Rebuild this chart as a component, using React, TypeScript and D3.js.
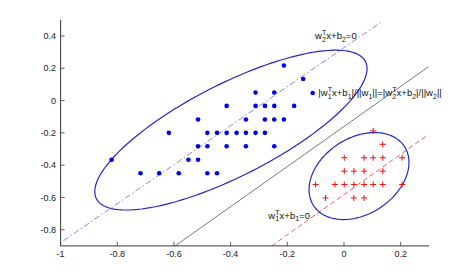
import React from 'react';
import * as d3 from 'd3';

// ---- data ----
const blueX = [
  -0.212,
  -0.144,
  -0.312, -0.246,
  -0.414, -0.312, -0.279, -0.246, -0.176,
  -0.515, -0.346, -0.279, -0.246, -0.212,
  -0.618, -0.482, -0.448, -0.414, -0.379, -0.346, -0.312, -0.279,
  -0.515, -0.482, -0.414, -0.346, -0.246,
  -0.82, -0.549, -0.515,
  -0.718, -0.652, -0.583, -0.482, -0.448,
];
const blueY = [
  0.217,
  0.133,
  0.05, 0.05,
  -0.033, -0.033, -0.033, -0.033, -0.033,
  -0.117, -0.117, -0.117, -0.117, -0.117,
  -0.2, -0.2, -0.2, -0.2, -0.2, -0.2, -0.2, -0.2,
  -0.283, -0.283, -0.283, -0.283, -0.283,
  -0.367, -0.367, -0.367,
  -0.45, -0.45, -0.45, -0.45, -0.45,
];
const redX = [
  0.103,
  0.137,
  0.001, 0.071, 0.103, 0.137, 0.205,
  0.001, 0.035, 0.071, 0.137,
  -0.1, -0.032, 0.001, 0.035, 0.071, 0.103, 0.137, 0.205,
  -0.065, 0.035, 0.071,
];
const redY = [
  -0.188,
  -0.271,
  -0.354, -0.354, -0.354, -0.354, -0.354,
  -0.437, -0.437, -0.437, -0.437,
  -0.52, -0.52, -0.52, -0.52, -0.52, -0.52, -0.52, -0.52,
  -0.603, -0.603, -0.603,
];

// separating lines (endpoints, data units)
const lineW2 = [[-0.99, -0.868], [0.133, 0.488]];
const lineMid = [[-0.596, -0.9], [0.298, 0.209]];
const lineW1 = [[-0.255, -0.9], [0.292, -0.218]];

// ellipses: center, semi-axis vector u, semi-axis vector v (data units)
const blueEllipse = [[-0.399, -0.183], [0.4747, 0.4246], [0.0737, -0.254]];
const redEllipse = [[0.053, -0.4675], [0.1604, 0.1828], [0.0732, -0.1978]];

const xTicks = [-1, -0.8, -0.6, -0.4, -0.2, 0, 0.2];
const yTicks = [-0.8, -0.6, -0.4, -0.2, 0, 0.2, 0.4];
const xDomain = [-1, 0.3];
const yDomain = [-0.9, 0.5];

// annotation anchors (data units)
const labelW2Pos = [-0.102, 0.383];
const labelW1Pos = [-0.267, -0.731];

const FONT = '"Liberation Sans", Arial, Helvetica, sans-serif';

type Seg = { t?: string; sup?: string; sub?: string };

function Eq({ x, y, segs, fs = 9.5 }: { x: number; y: number; segs: Seg[]; fs?: number }) {
  const small = fs * 0.74;
  const out: React.ReactNode[] = [];
  let cur = 0; // current baseline offset
  segs.forEach((s, i) => {
    if (s.t !== undefined) {
      out.push(
        <tspan key={i + 'm'} fontSize={fs} dy={-cur} dx={i > 0 && segs[i - 1].sup ? 0.5 : 0}>
          {s.t}
        </tspan>
      );
      cur = 0;
    } else {
      if (s.sup) {
        const up = -fs * 0.4;
        out.push(
          <tspan key={i + 'p'} fontSize={small} dy={up - cur}>
            {s.sup}
          </tspan>
        );
        cur = up;
        const down = fs * 0.3;
        out.push(
          <tspan key={i + 'b'} fontSize={small} dx={-small * 0.611} dy={down - cur}>
            {s.sub}
          </tspan>
        );
        cur = down;
      } else {
        const down = fs * 0.3;
        out.push(
          <tspan key={i + 'b'} fontSize={small} dy={down - cur}>
            {s.sub}
          </tspan>
        );
        cur = down;
      }
    }
  });
  return (
    <text x={x} y={y} fontFamily={FONT} fill="#111">
      {out}
    </text>
  );
}

export default function App() {
  const W = 474, H = 277;
  const x = d3.scaleLinear().domain(xDomain).range([60.6, 429]);
  const y = d3.scaleLinear().domain(yDomain).range([245.9, 19.8]);

  const ell = (e: number[][]) => {
    const [c, u, v] = e;
    const ts = d3.range(0, 2 * Math.PI + 0.001, Math.PI / 90);
    return d3
      .line<number>()
      .x((t) => x(c[0] + u[0] * Math.cos(t) + v[0] * Math.sin(t)))
      .y((t) => y(c[1] + u[1] * Math.cos(t) + v[1] * Math.sin(t)))(ts) as string;
  };
  const seg = (l: number[][]) =>
    d3.line<number[]>().x((p) => x(p[0])).y((p) => y(p[1]))(l) as string;

  const axisColor = '#3a3a3a';
  return (
    <svg
      width={W}
      height={H}
      style={{ position: 'absolute', left: 0, top: 0, background: '#fff' }}
    >
      {/* lines */}
      <path d={seg(lineMid)} stroke="#555" strokeWidth={0.8} fill="none" />
      <path d={seg(lineW2)} stroke="#6a6ac8" strokeWidth={0.8} fill="none" strokeDasharray="6,2.5,1.5,2.5" />
      <path d={seg(lineW1)} stroke="#e85050" strokeWidth={0.9} fill="none" strokeDasharray="5,3" />

      {/* ellipses */}
      <path d={ell(blueEllipse)} stroke="#2525c8" strokeWidth={1.2} fill="none" />
      <path d={ell(redEllipse)} stroke="#2525c8" strokeWidth={1.2} fill="none" />

      {/* blue points */}
      {blueX.map((bx, i) => (
        <circle key={'b' + i} cx={x(bx)} cy={y(blueY[i])} r={2.3} fill="#0000f0" />
      ))}
      {/* red plus */}
      {redX.map((rx, i) => {
        const cx = x(rx), cy = y(redY[i]);
        return (
          <path
            key={'r' + i}
            d={`M${cx - 3},${cy}H${cx + 3}M${cx},${cy - 3}V${cy + 3}`}
            stroke="#f01010"
            strokeWidth={1}
          />
        );
      })}

      {/* axes */}
      <line x1={x(xDomain[0])} x2={x(xDomain[1])} y1={y(yDomain[0])} y2={y(yDomain[0])} stroke={axisColor} strokeWidth={1} />
      <line x1={x(xDomain[0])} x2={x(xDomain[0])} y1={y(yDomain[0])} y2={y(yDomain[1])} stroke={axisColor} strokeWidth={1} />
      {xTicks.map((t) => (
        <g key={'xt' + t}>
          <line x1={x(t)} x2={x(t)} y1={y(yDomain[0])} y2={y(yDomain[0]) - 4} stroke={axisColor} strokeWidth={0.8} />
          <text x={x(t)} y={256.5} textAnchor="middle" fontSize={9} fontFamily={FONT} fill="#222">
            {String(t)}
          </text>
        </g>
      ))}
      {yTicks.map((t) => (
        <g key={'yt' + t}>
          <line x1={x(xDomain[0])} x2={x(xDomain[0]) + 4} y1={y(t)} y2={y(t)} stroke={axisColor} strokeWidth={0.8} />
          <text x={56} y={y(t) + 3.2} textAnchor="end" fontSize={9} fontFamily={FONT} fill="#222">
            {String(t)}
          </text>
        </g>
      ))}

      {/* annotations */}
      <Eq
        x={x(labelW2Pos[0])}
        y={y(labelW2Pos[1])}
        segs={[{ t: 'w' }, { sup: 'T', sub: '2' }, { t: 'x+b' }, { sub: '2' }, { t: '=0' }]}
      />
      <Eq
        x={x(labelW1Pos[0])}
        y={y(labelW1Pos[1])}
        segs={[{ t: 'w' }, { sup: 'T', sub: '1' }, { t: 'x+b' }, { sub: '1' }, { t: '=0' }]}
      />

      {/* legend */}
      <circle cx={312.7} cy={93} r={2.3} fill="#0000f0" />
      <Eq
        x={318.3}
        y={96}
        segs={[
          { t: '|w' }, { sup: 'T', sub: '1' }, { t: 'x+b' }, { sub: '1' }, { t: '|/||w' }, { sub: '1' },
          { t: '||=|w' }, { sup: 'T', sub: '2' }, { t: 'x+b' }, { sub: '2' }, { t: '|/||w' }, { sub: '2' }, { t: '||' },
        ]}
      />
    </svg>
  );
}
